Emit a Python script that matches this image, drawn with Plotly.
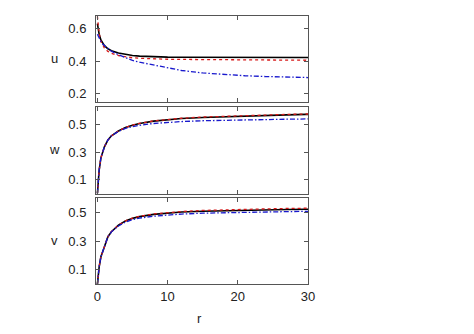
import plotly.graph_objects as go

r = [0, 0.1, 0.25, 0.5, 0.75, 1, 1.5, 2, 3, 4, 5, 6, 8, 10, 12, 15, 18, 21, 24, 27, 29.7, 30]

u_black = [0.63, 0.60, 0.565, 0.53, 0.51, 0.495, 0.476, 0.464, 0.450, 0.441, 0.435, 0.431, 0.427, 0.425, 0.424, 0.424, 0.423, 0.423, 0.423, 0.423, 0.423, 0.423]
u_red = [0.675, 0.62, 0.57, 0.52, 0.495, 0.48, 0.46, 0.448, 0.435, 0.427, 0.421, 0.418, 0.414, 0.412, 0.411, 0.410, 0.409, 0.409, 0.408, 0.408, 0.406, 0.396]
u_blue = [0.565, 0.555, 0.54, 0.52, 0.505, 0.495, 0.476, 0.461, 0.440, 0.420, 0.405, 0.394, 0.377, 0.356, 0.343, 0.328, 0.318, 0.311, 0.306, 0.302, 0.300, 0.300]

w_black = [0.0, 0.08, 0.17, 0.26, 0.31, 0.34, 0.39, 0.42, 0.455, 0.480, 0.497, 0.510, 0.527, 0.538, 0.546, 0.554, 0.560, 0.565, 0.569, 0.573, 0.576, 0.576]
w_red = [0.0, 0.08, 0.17, 0.26, 0.31, 0.34, 0.39, 0.42, 0.456, 0.481, 0.498, 0.511, 0.529, 0.540, 0.548, 0.557, 0.563, 0.568, 0.572, 0.576, 0.579, 0.579]
w_blue = [0.0, 0.08, 0.17, 0.26, 0.31, 0.34, 0.39, 0.42, 0.452, 0.474, 0.487, 0.497, 0.510, 0.518, 0.524, 0.530, 0.534, 0.537, 0.539, 0.541, 0.543, 0.543]

v_black = [0.0, 0.05, 0.12, 0.19, 0.23, 0.26, 0.33, 0.365, 0.410, 0.440, 0.458, 0.470, 0.486, 0.496, 0.502, 0.508, 0.512, 0.515, 0.518, 0.520, 0.522, 0.522]
v_red = [0.0, 0.05, 0.12, 0.19, 0.23, 0.26, 0.33, 0.366, 0.411, 0.441, 0.460, 0.472, 0.489, 0.499, 0.506, 0.513, 0.518, 0.521, 0.524, 0.527, 0.529, 0.529]
v_blue = [0.0, 0.05, 0.12, 0.19, 0.23, 0.26, 0.33, 0.364, 0.405, 0.432, 0.449, 0.460, 0.473, 0.482, 0.488, 0.494, 0.498, 0.501, 0.503, 0.505, 0.507, 0.507]

y_labels = ["u", "w", "v"]
x_ticks = [0, 10, 20, 30]
u_ticks = [0.2, 0.4, 0.6]
wv_ticks = [0.1, 0.3, 0.5]

BLACK = "black"
RED = "rgb(215,25,25)"
BLUE = "rgb(25,25,205)"
FRAME = "#555555"

fig = go.Figure()

panels = [
    (u_black, u_red, u_blue, "x", "y"),
    (w_black, w_red, w_blue, "x2", "y2"),
    (v_black, v_red, v_blue, "x3", "y3"),
]
for blk, red, blu, xa, ya in panels:
    fig.add_trace(go.Scatter(x=r, y=blk, xaxis=xa, yaxis=ya, mode="lines",
                             line=dict(color=BLACK, width=1.6), showlegend=False))
    fig.add_trace(go.Scatter(x=r, y=red, xaxis=xa, yaxis=ya, mode="lines",
                             line=dict(color=RED, width=1.3, dash="dot"), showlegend=False))
    fig.add_trace(go.Scatter(x=r, y=blu, xaxis=xa, yaxis=ya, mode="lines",
                             line=dict(color=BLUE, width=1.3, dash="5px,2px,1.5px,2px"), showlegend=False))

font = dict(family="Liberation Sans, Arial, sans-serif", size=13, color="#222")

def xax(domain_anchor, show):
    return dict(range=[-0.2, 30], tickvals=x_ticks, showticklabels=show,
                ticks="inside", ticklen=4, tickcolor=FRAME, mirror="ticks",
                showline=True, linecolor=FRAME, linewidth=1, showgrid=False,
                zeroline=False, anchor=domain_anchor, domain=[0, 1], tickfont=font)

def yax(rng, ticks, dom, anchor):
    return dict(range=rng, tickvals=ticks, ticks="inside", ticklen=4, tickcolor=FRAME,
                mirror="ticks", showline=True, linecolor=FRAME, linewidth=1,
                showgrid=False, zeroline=False, domain=dom, anchor=anchor,
                tickfont=font, ticklabelstandoff=6, tickformat=".1f")

fig.update_layout(
    width=474, height=334,
    margin=dict(l=96, r=166, t=15, b=50),
    plot_bgcolor="white", paper_bgcolor="white",
    xaxis=xax("y", False),
    xaxis2=xax("y2", False),
    xaxis3=xax("y3", True),
    yaxis=yax([0.15, 0.68], u_ticks, [0.6766, 0.998], "x"),
    yaxis2=yax([0.0, 0.63], wv_ticks, [0.3364, 0.658], "x2"),
    yaxis3=yax([0.0, 0.60], wv_ticks, [0.0, 0.3197], "x3"),
)

# axis titles as annotations
ylab_pos = [0.84, 0.50, 0.16]
for lab, yp in zip(y_labels, ylab_pos):
    fig.add_annotation(text=lab, xref="paper", yref="paper", x=-0.195, y=yp,
                       showarrow=False, font=font, xanchor="center", yanchor="middle")
fig.add_annotation(text="r", xref="paper", yref="paper", x=0.49, y=-0.092,
                   showarrow=False, font=font, xanchor="center", yanchor="top")

fig.write_html("out.html")
